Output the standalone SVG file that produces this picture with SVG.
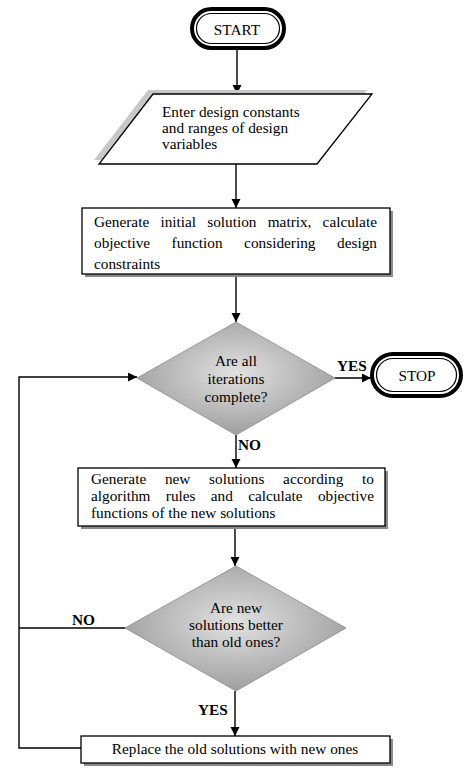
<svg xmlns="http://www.w3.org/2000/svg" width="474" height="777" viewBox="0 0 474 777">
<style>
text{font-family:"Liberation Serif","Times New Roman",serif;font-size:15.3px;fill:#000}
.b{font-weight:bold}
.c{text-anchor:middle}
.ln{fill:none;stroke:#000;stroke-width:1.4}
.box{fill:#fff;stroke:#000;stroke-width:1.3}
.sh{fill:#8a8a8a}
.dia{fill:url(#dg);stroke:#8a8a8a;stroke-width:0.8}
.tout{fill:#fff;stroke:#000;stroke-width:4}
.tin{fill:none;stroke:#000;stroke-width:1.2}
</style>
<defs>
<radialGradient id="dg" cx="50%" cy="45%" r="60%">
<stop offset="0" stop-color="#e2e2e2"/>
<stop offset="1" stop-color="#999"/>
</radialGradient>
<marker id="ah" markerUnits="userSpaceOnUse" markerWidth="10" markerHeight="10" refX="9" refY="4.5" orient="auto">
<path d="M0,0 L9,4.5 L0,9 z" fill="#000"/>
</marker>
</defs>
<rect width="474" height="777" fill="#fff"/>

<g id="connectors">
<line class="ln" x1="237" y1="49" x2="237" y2="94" marker-end="url(#ah)"/>
<line class="ln" x1="236" y1="164" x2="236" y2="208" marker-end="url(#ah)"/>
<line class="ln" x1="236" y1="277" x2="236" y2="322" marker-end="url(#ah)"/>
<line class="ln" x1="236" y1="435" x2="236" y2="468" marker-end="url(#ah)"/>
<line class="ln" x1="335" y1="378" x2="371" y2="378" marker-end="url(#ah)"/>
<line class="ln" x1="235" y1="529" x2="235" y2="566" marker-end="url(#ah)"/>
<line class="ln" x1="235" y1="691" x2="235" y2="736" marker-end="url(#ah)"/>
<polyline class="ln" points="81,748 19,748 19,377 137,377" marker-end="url(#ah)"/>
<line class="ln" x1="125" y1="628" x2="19" y2="628"/>
<text class="b" x="337" y="371">YES</text>
<text class="b" x="238" y="450">NO</text>
<text class="b" x="72" y="625">NO</text>
<text class="b" x="198" y="715">YES</text>
</g>

<g id="start">
<rect class="tout" x="192" y="9" width="92" height="39" rx="19.5"/>
<rect class="tin" x="196.5" y="13.5" width="83" height="30" rx="15"/>
<text class="c" x="237" y="35">START</text>
</g>

<g id="input">
<polygon points="148,90 367,90 312,160 94,160" fill="#c8c8c8"/>
<polygon points="153,94 372,94 317,164 99,164" class="box"/>
<text x="162" y="117">Enter design constants</text>
<text x="162" y="133">and ranges of design</text>
<text x="162" y="149">variables</text>
</g>

<g id="init">
<rect class="sh" x="85" y="211" width="308" height="66"/>
<rect class="box" x="82" y="208" width="308" height="66"/>
<text y="227"><tspan x="94">Generate</tspan><tspan x="160.4">initial</tspan><tspan x="207.2">solution</tspan><tspan x="267.7">matrix,</tspan><tspan x="322.6">calculate</tspan></text>
<text y="248"><tspan x="94">objective</tspan><tspan x="171.6">function</tspan><tspan x="244.1">considering</tspan><tspan x="337">design</tspan></text>
<text x="94" y="269">constraints</text>
</g>

<g id="decision1">
<polygon class="dia" points="236,322 335,378 236,435 137,378"/>
<text class="c" x="236" y="366">Are all</text>
<text class="c" x="236" y="384">iterations</text>
<text class="c" x="236" y="402">complete?</text>
</g>

<g id="stop">
<rect class="tout" x="372" y="354" width="89" height="42" rx="21"/>
<rect class="tin" x="376.5" y="358.5" width="80" height="33" rx="16.5"/>
<text class="c" x="417" y="381">STOP</text>
</g>

<g id="generate">
<rect class="sh" x="81" y="471" width="307" height="58"/>
<rect class="box" x="78" y="468" width="307" height="58"/>
<text y="484"><tspan x="91">Generate</tspan><tspan x="164.9">new</tspan><tspan x="209.1">solutions</tspan><tspan x="283.1">according</tspan><tspan x="362.1">to</tspan></text>
<text y="501"><tspan x="91">algorithm</tspan><tspan x="165.8">rules</tspan><tspan x="210.8">and</tspan><tspan x="248.2">calculate</tspan><tspan x="317.9">objective</tspan></text>
<text x="91" y="518">functions of the new solutions</text>
</g>

<g id="decision2">
<polygon class="dia" points="236,566 346,628 236,691 125,628"/>
<text class="c" x="236" y="613">Are new</text>
<text class="c" x="236" y="630">solutions better</text>
<text class="c" x="236" y="647">than old ones?</text>
</g>

<g id="replace">
<rect class="sh" x="84" y="739" width="309" height="27"/>
<rect class="box" x="81" y="736" width="309" height="27"/>
<text class="c" x="235" y="754">Replace the old solutions with new ones</text>
</g>
</svg>
